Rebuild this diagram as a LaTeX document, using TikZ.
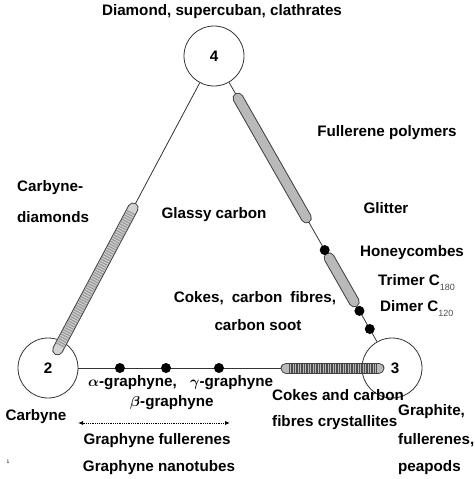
\documentclass[tikz,border=0pt]{standalone}
\usepackage{bm}
\usepackage{fontspec}
\setmainfont{Liberation Sans}
\usetikzlibrary{calc,arrows.meta}
\newcommand{\subnum}[1]{\raisebox{-5pt}{\fontsize{9}{10}\selectfont\mdseries\color{black!70}#1}}
\begin{document}
\begin{tikzpicture}[x=1pt,y=-1pt,
  phase/.style={circle,draw=black!80,line width=0.8pt,minimum size=60pt,inner sep=0pt,font=\fontsize{15.2}{18}\selectfont\bfseries},
  lbl/.style={inner sep=0pt,font=\fontsize{15.2}{18}\selectfont\bfseries},
  bond/.style={draw=black!80,line width=0.8pt},
  dot/.style={circle,fill=black,inner sep=0pt,minimum size=10pt},
  barout/.style={line width=11pt,line cap=round,draw=black!75},
  barfill/.style={line width=9pt,line cap=round,draw=#1},
  stripes/.style={line width=9pt,dash pattern=on 1.2pt off 1.3pt,draw=#1}]
\useasboundingbox (0,0) rectangle (474,479);

\node[phase] (n4) at (214,56) {4};
\node[phase] (n2) at (48,368) {2};
\node[phase] (n3) at (392,368) {\hspace{6pt}3};

\draw[bond] (n4) -- (n2);
\draw[bond] (n4) -- (n3);
\draw[bond] (n2) -- (n3);

% hatched bar, left side
\draw[barout] ($(n4)!0.487!(n2)$) -- ($(n4)!0.942!(n2)$);
\draw[barfill=gray!35] ($(n4)!0.487!(n2)$) -- ($(n4)!0.942!(n2)$);
\draw[stripes=gray!80] ($(n4)!0.50!(n2)$) -- ($(n4)!0.93!(n2)$);

% grey bars, right side
\draw[barout] ($(n4)!0.135!(n3)$) -- ($(n4)!0.519!(n3)$);
\draw[barfill=gray!55] ($(n4)!0.135!(n3)$) -- ($(n4)!0.519!(n3)$);
\draw[barout] ($(n4)!0.647!(n3)$) -- ($(n4)!0.788!(n3)$);
\draw[barfill=gray!55] ($(n4)!0.647!(n3)$) -- ($(n4)!0.788!(n3)$);

% striped bar, bottom
\draw[barout] ($(n2)!0.692!(n3)$) -- ($(n2)!0.962!(n3)$);
\draw[barfill=gray!55] ($(n2)!0.692!(n3)$) -- ($(n2)!0.962!(n3)$);
\draw[stripes=black!70] ($(n2)!0.70!(n3)$) -- ($(n2)!0.955!(n3)$);

\foreach \t/\name in {0.622/r1,0.817/r2,0.875/r3}
  \node[dot] (\name) at ($(n4)!\t!(n3)$) {};
\foreach \t/\name in {0.209/b1,0.343/b2,0.497/b3}
  \node[dot] (\name) at ($(n2)!\t!(n3)$) {};

\node[lbl] (top) at (222,12) {Diamond, supercuban, clathrates};
\node[lbl] (fp) at (387,133) {Fullerene polymers};
\node[lbl,anchor=west] (cd1) at (17,188) {Carbyne-};
\node[lbl,anchor=west] (cd2) at (17,217) {diamonds};
\node[lbl] (gc) at (214,215) {Glassy carbon};
\node[lbl] (gl) at (386,208) {Glitter};
\node[lbl] (hc) at (412,253) {Honeycombes};
\node[lbl,anchor=west] (tr) at (378,283) {Trimer C\subnum{180}};
\node[lbl,anchor=west] (dm) at (380,309) {Dimer C\subnum{120}};
\node[lbl] (ck) at (255,298) {Cokes,\hspace{8pt}carbon\hspace{8pt}fibres,};
\node[lbl] (cs) at (258,325) {carbon soot};

\node[lbl,anchor=west] (ag) at (88,383) {$\bm{\alpha}$-graphyne,};
\node[lbl,anchor=west] (gg) at (190,383) {$\bm{\gamma}$-graphyne};
\node[lbl,anchor=west] (bg) at (130,403) {$\bm{\beta}$-graphyne};
\node[lbl] (cb) at (36,417) {Carbyne};
\coordinate (al) at (78,423);
\coordinate (ar) at (230,423);
\draw[densely dotted,line width=0.8pt,{Latex[length=5pt,width=4pt]}-{Latex[length=5pt,width=4pt]}] (al) -- (ar);
\node[lbl] (gf) at (157,441) {Graphyne fullerenes};
\node[lbl] (gn) at (159,468) {Graphyne nanotubes};

\node[lbl,anchor=west] (ck1) at (272,395) {Cokes and carbon};
\node[lbl,anchor=west] (ck2) at (272,423) {fibres crystallites};
\node[lbl,anchor=west] (gr1) at (398,412) {Graphite,};
\node[lbl,anchor=west] (gr2) at (398,440) {fullerenes,};
\node[lbl,anchor=west] (gr3) at (398,468) {peapods};
\node[inner sep=0pt,font=\tiny] (one) at (8,462) {1};
\end{tikzpicture}
\end{document}
